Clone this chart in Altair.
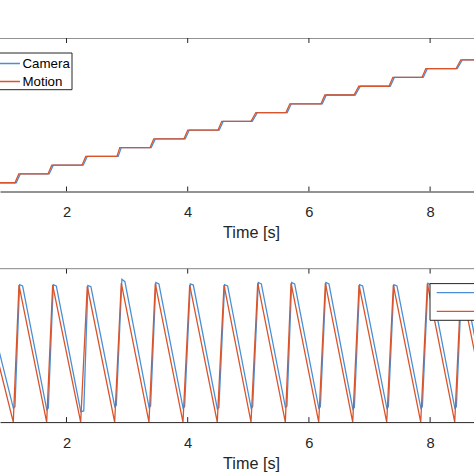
import altair as alt
import pandas as pd

W = 474
H = 153.5
AXIS_COLOR = "#262626"
FONT = "Liberation Sans"

series_names = ["Camera", "Motion"]
series_colors = ["#4A8FD6", "#D9542B"]

tick_values = [2, 4, 6, 8]
x_view = [0.903, 8.724]
x_title = "Time [s]"

# Cumulative position: one step per cycle
stair_levels = [2, 4, 6, 8, 10, 12, 14, 16, 18, 20, 22, 24, 26, 28, 30]
stair_span = [0.0, 8.8]
motion_rise_start = [1.150, 1.695, 2.256, 2.833, 3.378, 3.939, 4.500,
                     5.045, 5.622, 6.200, 6.744, 7.322, 7.866, 8.427]
motion_rise_end = [1.213, 1.757, 2.318, 2.879, 3.440, 4.001, 4.562,
                   5.124, 5.685, 6.263, 6.824, 7.385, 7.929, 8.506]
camera_rise_start = [1.170, 1.715, 2.276, 2.853, 3.398, 3.959, 4.520,
                     5.065, 5.642, 6.220, 6.764, 7.342, 7.886, 8.447]
camera_rise_end = [1.238, 1.782, 2.343, 2.904, 3.465, 4.026, 4.587,
                   5.149, 5.710, 6.288, 6.849, 7.410, 7.954, 8.531]

# Wrapped angle [deg], polyline vertices
motion_phase_t = [0.560, 1.122, 1.216, 1.673, 1.772, 2.234, 2.343, 2.795, 2.904,
                  3.361, 3.465, 3.922, 4.033, 4.488, 4.599, 5.045, 5.155,
                  5.611, 5.705, 6.162, 6.271, 6.723, 6.827, 7.284, 7.393,
                  7.845, 7.954, 8.406, 8.510, 8.967]
motion_phase_v = [357, 0, 357, 0, 357, 0, 354, 0, 362, 0, 361, 0, 357, 0, 357,
                  0, 362, 0, 362, 0, 362, 0, 357, 0, 357, 0, 361, 0, 357, 0]

camera_phase_t = [0.620,
                  1.124, 1.150, 1.226, 1.276,
                  1.675, 1.700, 1.782, 1.832,
                  2.236, 2.285, 2.353, 2.403,
                  2.797, 2.822, 2.914, 2.964,
                  3.363, 3.388, 3.475, 3.525,
                  3.924, 3.949, 4.043, 4.093,
                  4.490, 4.515, 4.609, 4.659,
                  5.047, 5.072, 5.165, 5.215,
                  5.613, 5.638, 5.715, 5.765,
                  6.164, 6.189, 6.281, 6.331,
                  6.725, 6.750, 6.837, 6.887,
                  7.286, 7.311, 7.403, 7.453,
                  7.847, 7.872, 7.964, 8.014,
                  8.408, 8.433, 8.520, 8.570,
                  8.969]
camera_phase_v = [355,
                  36, 40, 358, 355,
                  32, 37, 358, 355,
                  27, 29, 356, 353,
                  40, 44, 372, 366,
                  38, 42, 364, 360,
                  36, 40, 360, 357,
                  34, 38, 358, 355,
                  36, 40, 364, 360,
                  38, 42, 364, 360,
                  36, 40, 364, 360,
                  34, 38, 358, 355,
                  36, 40, 358, 355,
                  36, 40, 362, 358,
                  36, 40, 358, 355,
                  36]


def stair_frame(starts, ends):
    rows = [(stair_span[0], stair_levels[0])]
    for k, (s, e) in enumerate(zip(starts, ends)):
        rows.append((s, stair_levels[k]))
        rows.append((e, stair_levels[k + 1]))
    rows.append((stair_span[1], stair_levels[-1]))
    return pd.DataFrame({"t": [r[0] for r in rows], "v": [r[1] for r in rows],
                         "i": list(range(len(rows)))})


def poly_frame(ts, vs):
    return pd.DataFrame({"t": ts, "v": vs, "i": list(range(len(ts)))})


xscale = alt.Scale(domain=x_view, nice=False, zero=False)
xaxis = alt.Axis(
    values=tick_values, format="d", ticks=False, tickSize=0, grid=False,
    domain=True, domainColor=AXIS_COLOR, domainWidth=1,
    labelFont=FONT, labelFontSize=14.7, labelColor=AXIS_COLOR,
    labelBaseline="alphabetic", labelPadding=25, labelFlush=False,
    labelOverlap=False, labelBound=False,
    title=x_title, titleFont=FONT, titleFontSize=16.2, titleFontWeight="normal",
    titleColor=AXIS_COLOR, titleX=251, titleY=46, titleAlign="center",
    titleBaseline="alphabetic",
)
anchor = pd.DataFrame({"n": [0]})
ticks_df = pd.DataFrame({"t": tick_values})


def series_line(df, color, ydom):
    return alt.Chart(df).mark_line(clip=True, strokeWidth=1.3, stroke=color).encode(
        x=alt.X("t:Q", scale=xscale, axis=xaxis),
        y=alt.Y("v:Q", scale=alt.Scale(domain=ydom, nice=False, zero=False), axis=None),
        order="i:Q",
    )


def frame_layers():
    top_border = alt.Chart(anchor).mark_rule(stroke=AXIS_COLOR, strokeWidth=1, clip=True).encode(
        x=alt.value(0), x2=alt.value(W), y=alt.value(0))
    top_ticks = alt.Chart(ticks_df).mark_rule(stroke=AXIS_COLOR, strokeWidth=1, clip=True).encode(
        x=alt.X("t:Q", scale=xscale, axis=xaxis), y=alt.value(0), y2=alt.value(5))
    bottom_ticks = alt.Chart(ticks_df).mark_rule(stroke=AXIS_COLOR, strokeWidth=1, clip=True).encode(
        x=alt.X("t:Q", scale=xscale, axis=xaxis), y=alt.value(H - 5), y2=alt.value(H))
    return [top_border, top_ticks, bottom_ticks]


def legend_box(x0, x1, line_x0, line_x1, line_ys, edge_x, text_x=None):
    y0, y1 = 15, 51.7
    layers = [
        alt.Chart(anchor).mark_rect(fill="white", clip=True).encode(
            x=alt.value(x0), x2=alt.value(x1), y=alt.value(y0), y2=alt.value(y1)),
        alt.Chart(anchor).mark_rule(stroke=AXIS_COLOR, strokeWidth=1, clip=True).encode(
            x=alt.value(x0), x2=alt.value(x1), y=alt.value(y0)),
        alt.Chart(anchor).mark_rule(stroke=AXIS_COLOR, strokeWidth=1, clip=True).encode(
            x=alt.value(x0), x2=alt.value(x1), y=alt.value(y1)),
        alt.Chart(anchor).mark_rule(stroke=AXIS_COLOR, strokeWidth=1, clip=True).encode(
            x=alt.value(edge_x), y=alt.value(y0), y2=alt.value(y1)),
    ]
    for name, color, ly in zip(series_names, series_colors, line_ys):
        layers.append(
            alt.Chart(anchor).mark_rule(stroke=color, strokeWidth=1.3, clip=True).encode(
                x=alt.value(line_x0), x2=alt.value(line_x1), y=alt.value(ly)))
        if text_x is not None:
            layers.append(
                alt.Chart(anchor).mark_text(
                    align="left", baseline="middle", font=FONT, fontSize=13.3,
                    fill="black", clip=True,
                ).encode(x=alt.value(text_x), y=alt.value(ly), text=alt.value(name)))
    return layers


stairs_panel = alt.layer(
    series_line(stair_frame(camera_rise_start, camera_rise_end), series_colors[0], [0, 35]),
    series_line(stair_frame(motion_rise_start, motion_rise_end), series_colors[1], [0, 35]),
    *frame_layers(),
    *legend_box(0, 72, 0, 20, [25.5, 43.5], 72, text_x=22.5),
).properties(width=W, height=H)

phase_panel = alt.layer(
    series_line(poly_frame(camera_phase_t, camera_phase_v), series_colors[0], [0, 400]),
    series_line(poly_frame(motion_phase_t, motion_phase_v), series_colors[1], [0, 400]),
    *frame_layers(),
    *legend_box(430, W, 436.7, W, [24, 42.7], 430),
).properties(width=W, height=H)

chart = alt.vconcat(stairs_panel, phase_panel, spacing=76.6, bounds="flush").properties(
    padding={"left": 0, "top": 38, "right": 0, "bottom": 0},
    background="white",
).configure_view(stroke=None)

chart.save("out.html", embed_options={"renderer": "svg", "actions": False})
